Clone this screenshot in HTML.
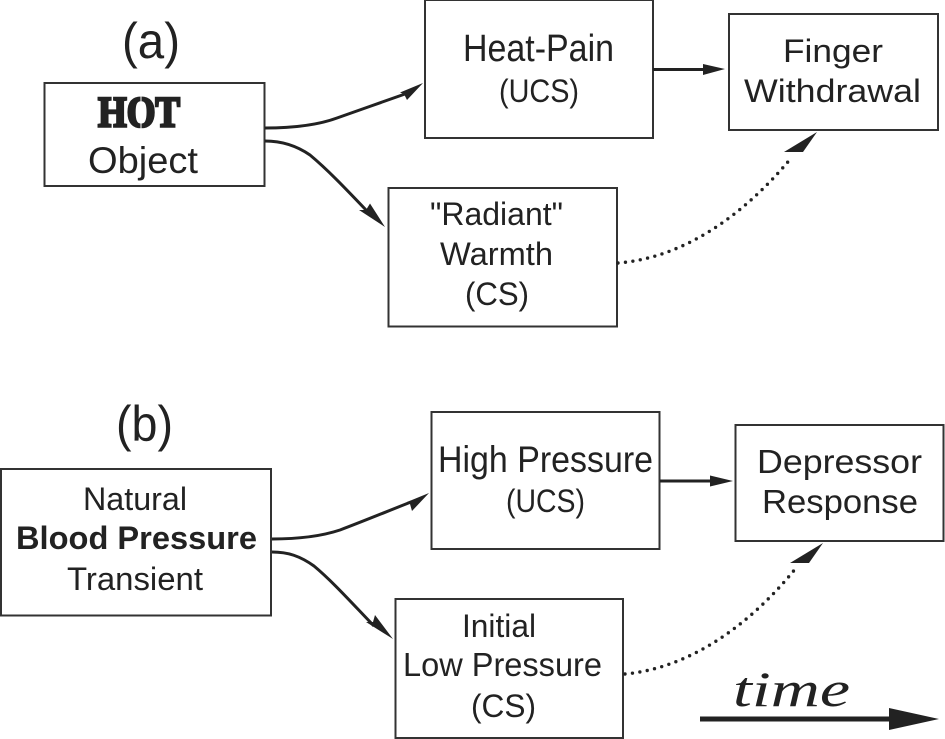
<!DOCTYPE html>
<html>
<head>
<meta charset="utf-8">
<style>
html,body{margin:0;padding:0;background:#fff;}
svg{display:block;}
text{font-family:"Liberation Sans",sans-serif;fill:#222;}
rect{fill:none;stroke:#333;stroke-width:2;}
.c{fill:none;stroke:#222;stroke-width:3;}
.d{fill:none;stroke:#222;stroke-width:3.4;stroke-linecap:round;stroke-dasharray:0 7.5;}
.a{fill:#222;stroke:none;}
</style>
</head>
<body>
<svg width="945" height="739" viewBox="0 0 945 739" xmlns="http://www.w3.org/2000/svg">
<rect x="44.500" y="83" width="220" height="103"/>
<rect x="425" y="0" width="228" height="138"/>
<rect x="729" y="14" width="209" height="116"/>
<rect x="388.500" y="188" width="228.500" height="138.500"/>
<rect x="1" y="469" width="270" height="146.500"/>
<rect x="431.500" y="412" width="228" height="137"/>
<rect x="735.500" y="425" width="208" height="116"/>
<rect x="395.500" y="599" width="227.500" height="139"/>

<path class="c" d="M265 128 C295 128 318 125 337 118 C360 110 382 102 405 94"/>
<path class="a" d="M423 83 L400 92.500 L404 94 L407 100 Z"/>
<path class="c" d="M265 141 C283 141 297 146 310 155 C328 170 346 189 367 211"/>
<path class="a" d="M385 227 L359 210 L366 210 L370 203.500 Z"/>
<path class="c" d="M653 69.500 H706"/>
<path class="a" d="M725 69 L703 64 V75 Z"/>
<path class="d" d="M618 263 C680 258 740 220 792 157"/>
<path class="a" d="M817 132 L784 152 L803 152 Z"/>

<path class="c" d="M272 539 C300 539 322 536 340 530 C364 521 388 511 411 502"/>
<path class="a" d="M429 493 L407 502 L410 504 L412 511 Z"/>
<path class="c" d="M272 552 C288 552 300 556 314 566 C332 581 350 601 374 626"/>
<path class="a" d="M393 639 L366 622 L373 622 L375 615 Z"/>
<path class="c" d="M660 481 H712"/>
<path class="a" d="M733 481 L710 475.500 V486.500 Z"/>
<path class="d" d="M625 674 C690 668 750 625 796 568"/>
<path class="a" d="M823 543 L790 563 L809 563 Z"/>
<path class="c" style="stroke-width:5" d="M700 719 H892"/>
<path class="a" d="M939 719 L889 708 V730 Z"/>

<text x="122" y="58" font-size="50" textLength="58" lengthAdjust="spacingAndGlyphs">(a)</text>
<text x="463" y="61" font-size="38" textLength="151" lengthAdjust="spacingAndGlyphs">Heat-Pain</text>
<text x="499" y="102" font-size="32" textLength="80" lengthAdjust="spacingAndGlyphs">(UCS)</text>
<text x="783" y="62" font-size="32" textLength="100" lengthAdjust="spacingAndGlyphs">Finger</text>
<text x="744" y="102" font-size="32" textLength="177" lengthAdjust="spacingAndGlyphs">Withdrawal</text>
<text x="98" y="126.500" font-size="43" font-weight="bold" textLength="82" lengthAdjust="spacingAndGlyphs" style="font-family:'Liberation Serif',serif;stroke:#222;stroke-width:2.600">HOT</text>
<path d="M141 94 V130" stroke="#fff" stroke-width="1" fill="none"/>
<text x="88" y="173" font-size="37" textLength="110" lengthAdjust="spacingAndGlyphs">Object</text>
<text x="430" y="225" font-size="32" textLength="133" lengthAdjust="spacingAndGlyphs">"Radiant"</text>
<text x="440" y="265" font-size="32" textLength="113" lengthAdjust="spacingAndGlyphs">Warmth</text>
<text x="465" y="305" font-size="32" textLength="64" lengthAdjust="spacingAndGlyphs">(CS)</text>

<text x="116" y="441" font-size="50" textLength="57" lengthAdjust="spacingAndGlyphs">(b)</text>
<text x="438" y="472" font-size="37" textLength="215" lengthAdjust="spacingAndGlyphs">High Pressure</text>
<text x="506" y="512" font-size="32" textLength="79" lengthAdjust="spacingAndGlyphs">(UCS)</text>
<text x="757" y="473" font-size="33" textLength="165" lengthAdjust="spacingAndGlyphs">Depressor</text>
<text x="762" y="513" font-size="33" textLength="156" lengthAdjust="spacingAndGlyphs">Response</text>
<text x="83" y="510" font-size="32" textLength="104" lengthAdjust="spacingAndGlyphs">Natural</text>
<text x="16" y="549" font-size="32" font-weight="bold" textLength="241" lengthAdjust="spacingAndGlyphs">Blood Pressure</text>
<text x="67" y="590" font-size="32" textLength="136" lengthAdjust="spacingAndGlyphs">Transient</text>
<text x="462" y="637" font-size="32" textLength="74" lengthAdjust="spacingAndGlyphs">Initial</text>
<text x="403" y="676" font-size="33" textLength="199" lengthAdjust="spacingAndGlyphs">Low Pressure</text>
<text x="471" y="717" font-size="32" textLength="65" lengthAdjust="spacingAndGlyphs">(CS)</text>
<text x="733" y="706" font-size="50" font-style="italic" textLength="117" lengthAdjust="spacingAndGlyphs" style="font-family:'Liberation Serif',serif">time</text>
</svg>
</body>
</html>
